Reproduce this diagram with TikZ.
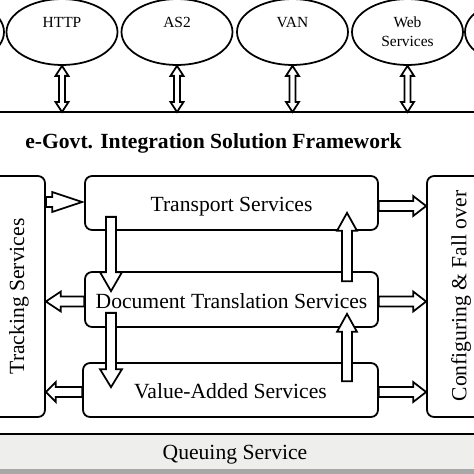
\documentclass[tikz,border=0pt]{standalone}
\usepackage{fontspec}
\setmainfont{Liberation Serif}
\usepackage{tikz}
\usetikzlibrary{calc}
\usetikzlibrary{shapes.geometric}

\definecolor{queuegray}{RGB}{238,238,236}
\definecolor{bargray}{RGB}{168,168,168}

\tikzset{
    proto/.style={draw, line width=1pt, ellipse, minimum width=2.22cm, minimum height=1.32cm,
        inner sep=0pt, align=center, font=\fontsize{8.8}{10.8}\selectfont},
    svcbox/.style={draw, line width=1pt, rounded corners=4pt, minimum width=5.86cm, minimum height=1.08cm,
        text height=10pt, text depth=0pt},
    fatline/.style={draw, line width=1pt, fill=white, line join=miter},
}

% length (in px) and angle of the segment #1 -> #2
\newcommand{\arrowframe}[2]{%
    \path let \p1=#1, \p2=#2 in \pgfextra{%
        \pgfmathparse{veclen(\x2-\x1,\y2-\y1)/0.569055}\xdef\arlen{\pgfmathresult}%
        \pgfmathparse{atan2(\y2-\y1,\x2-\x1)}\xdef\arang{\pgfmathresult}};}

% hollow block arrow: from, to, head length, head half width
\newcommand{\fatarrow}[4]{%
    \arrowframe{#1}{#2}
    \begin{scope}[shift={#1}, rotate=\arang, x=0.02cm, y=0.02cm]
        \draw[fatline] (0,-5) -- ({\arlen-#3},-5) -- ({\arlen-#3},-#4) -- (\arlen,0)
            -- ({\arlen-#3},#4) -- ({\arlen-#3},5) -- (0,5) -- cycle;
    \end{scope}}

% hollow double-headed arrow: from, to
\newcommand{\dblarrow}[2]{%
    \arrowframe{#1}{#2}
    \begin{scope}[shift={#1}, rotate=\arang, x=0.02cm, y=0.02cm]
        \draw[fatline] (0,0) -- (10,6.5) -- (10,3) -- ({\arlen-10},3) -- ({\arlen-10},6.5)
            -- (\arlen,0) -- ({\arlen-10},-6.5) -- ({\arlen-10},-3) -- (10,-3) -- (10,-6.5) -- cycle;
    \end{scope}}

\begin{document}
\begin{tikzpicture}[x=0.02cm, y=-0.02cm, font=\fontsize{12.3}{14.8}\selectfont]
    \useasboundingbox (0,0) rectangle (474,474);

    % Protocols
    \node[proto] (leftproto) at (-51.5,32) {};
    \node[proto] (http) at (62,32) {HTTP\\~};
    \node[proto] (as2) at (177,32) {AS2\\~};
    \node[proto] (van) at (292.5,32) {VAN\\~};
    \node[proto] (web) at (407.5,32) {Web\\Services};
    \node[proto] (rightproto) at (520.5,32) {};

    % Bus
    \coordinate (bus) at (0,112);
    \draw[line width=1pt] (bus) -- (474,112);
    \foreach \pname in {http,as2,van,web}
        \dblarrow{(\pname.south)}{(\pname.south |- bus)};

    % Title
    \node[font=\bfseries\fontsize{12.3}{14.8}\selectfont] (title) at (213.5,143) {e-Govt. Integration Solution Framework};

    % Side Boxes
    \node[svcbox, minimum width=1.3cm, minimum height=4.82cm] (track) at (12.5,296.5) {};
    \node[rotate=90] (tracktxt) at (19,296.5) {Tracking Services};
    \node[svcbox, minimum width=1.86cm, minimum height=4.82cm] (config) at (473.5,296.5) {};
    \node[rotate=90] (configtxt) at (461,296) {Configuring \& Fall over};

    % Service Boxes
    \node[svcbox] (transport) at (231.5,203) {Transport Services};
    \node[svcbox, minimum height=1.1cm] (doc) at (231.5,299.5) {Document Translation Services};
    \node[svcbox, minimum width=5.9cm] (va) at (230.5,390) {Value-Added Services};

    % Queuing Service
    \node[fill=queuegray, minimum width=9.6cm, minimum height=0.7cm, inner sep=0pt] (queue) at (237,451.5) {};
    \node (queuetxt) at (235,455) {Queuing Service};
    \fill[bargray] (queue.south west) rectangle ($(queue.south east)+(0,6)$);
    \draw[line width=1pt] (queue.north west) -- (queue.north east);

    % Arrows
    \coordinate (colL) at (111,0);
    \coordinate (colR) at (347,0);

    \fatarrow{($(track.east |- transport.west)+(0,-1)$)}{($(transport.west)+(-2,-1)$)}{30}{10}
    \fatarrow{($(transport.east)+(0,3)$)}{($(config.west |- transport.east)+(0,3)$)}{13}{10}

    \fatarrow{($(colL |- transport.south)+(0,-14)$)}{($(colL |- doc.north)+(0,20)$)}{19}{11}
    \fatarrow{($(colR |- doc.north)+(0,10)$)}{($(colR |- transport.south)+(0,-18)$)}{18}{10}

    \fatarrow{($(doc.west)+(0,2)$)}{($(track.east |- doc.west)+(0,2)$)}{15}{10}
    \fatarrow{($(doc.east)+(0,2)$)}{($(config.west |- doc.east)+(0,2)$)}{13}{10}

    \fatarrow{($(colL |- doc.south)+(0,-15)$)}{($(colL |- va.north)+(0,25)$)}{18}{11}
    \fatarrow{($(colR |- va.north)+(0,19)$)}{($(colR |- doc.south)+(0,-14)$)}{18}{10}

    \fatarrow{($(va.west)+(0,2)$)}{($(track.east |- va.west)+(0,2)$)}{10}{10}
    \fatarrow{($(va.east)+(0,2)$)}{($(config.west |- va.east)+(0,2)$)}{13}{10}
\end{tikzpicture}
\end{document}
